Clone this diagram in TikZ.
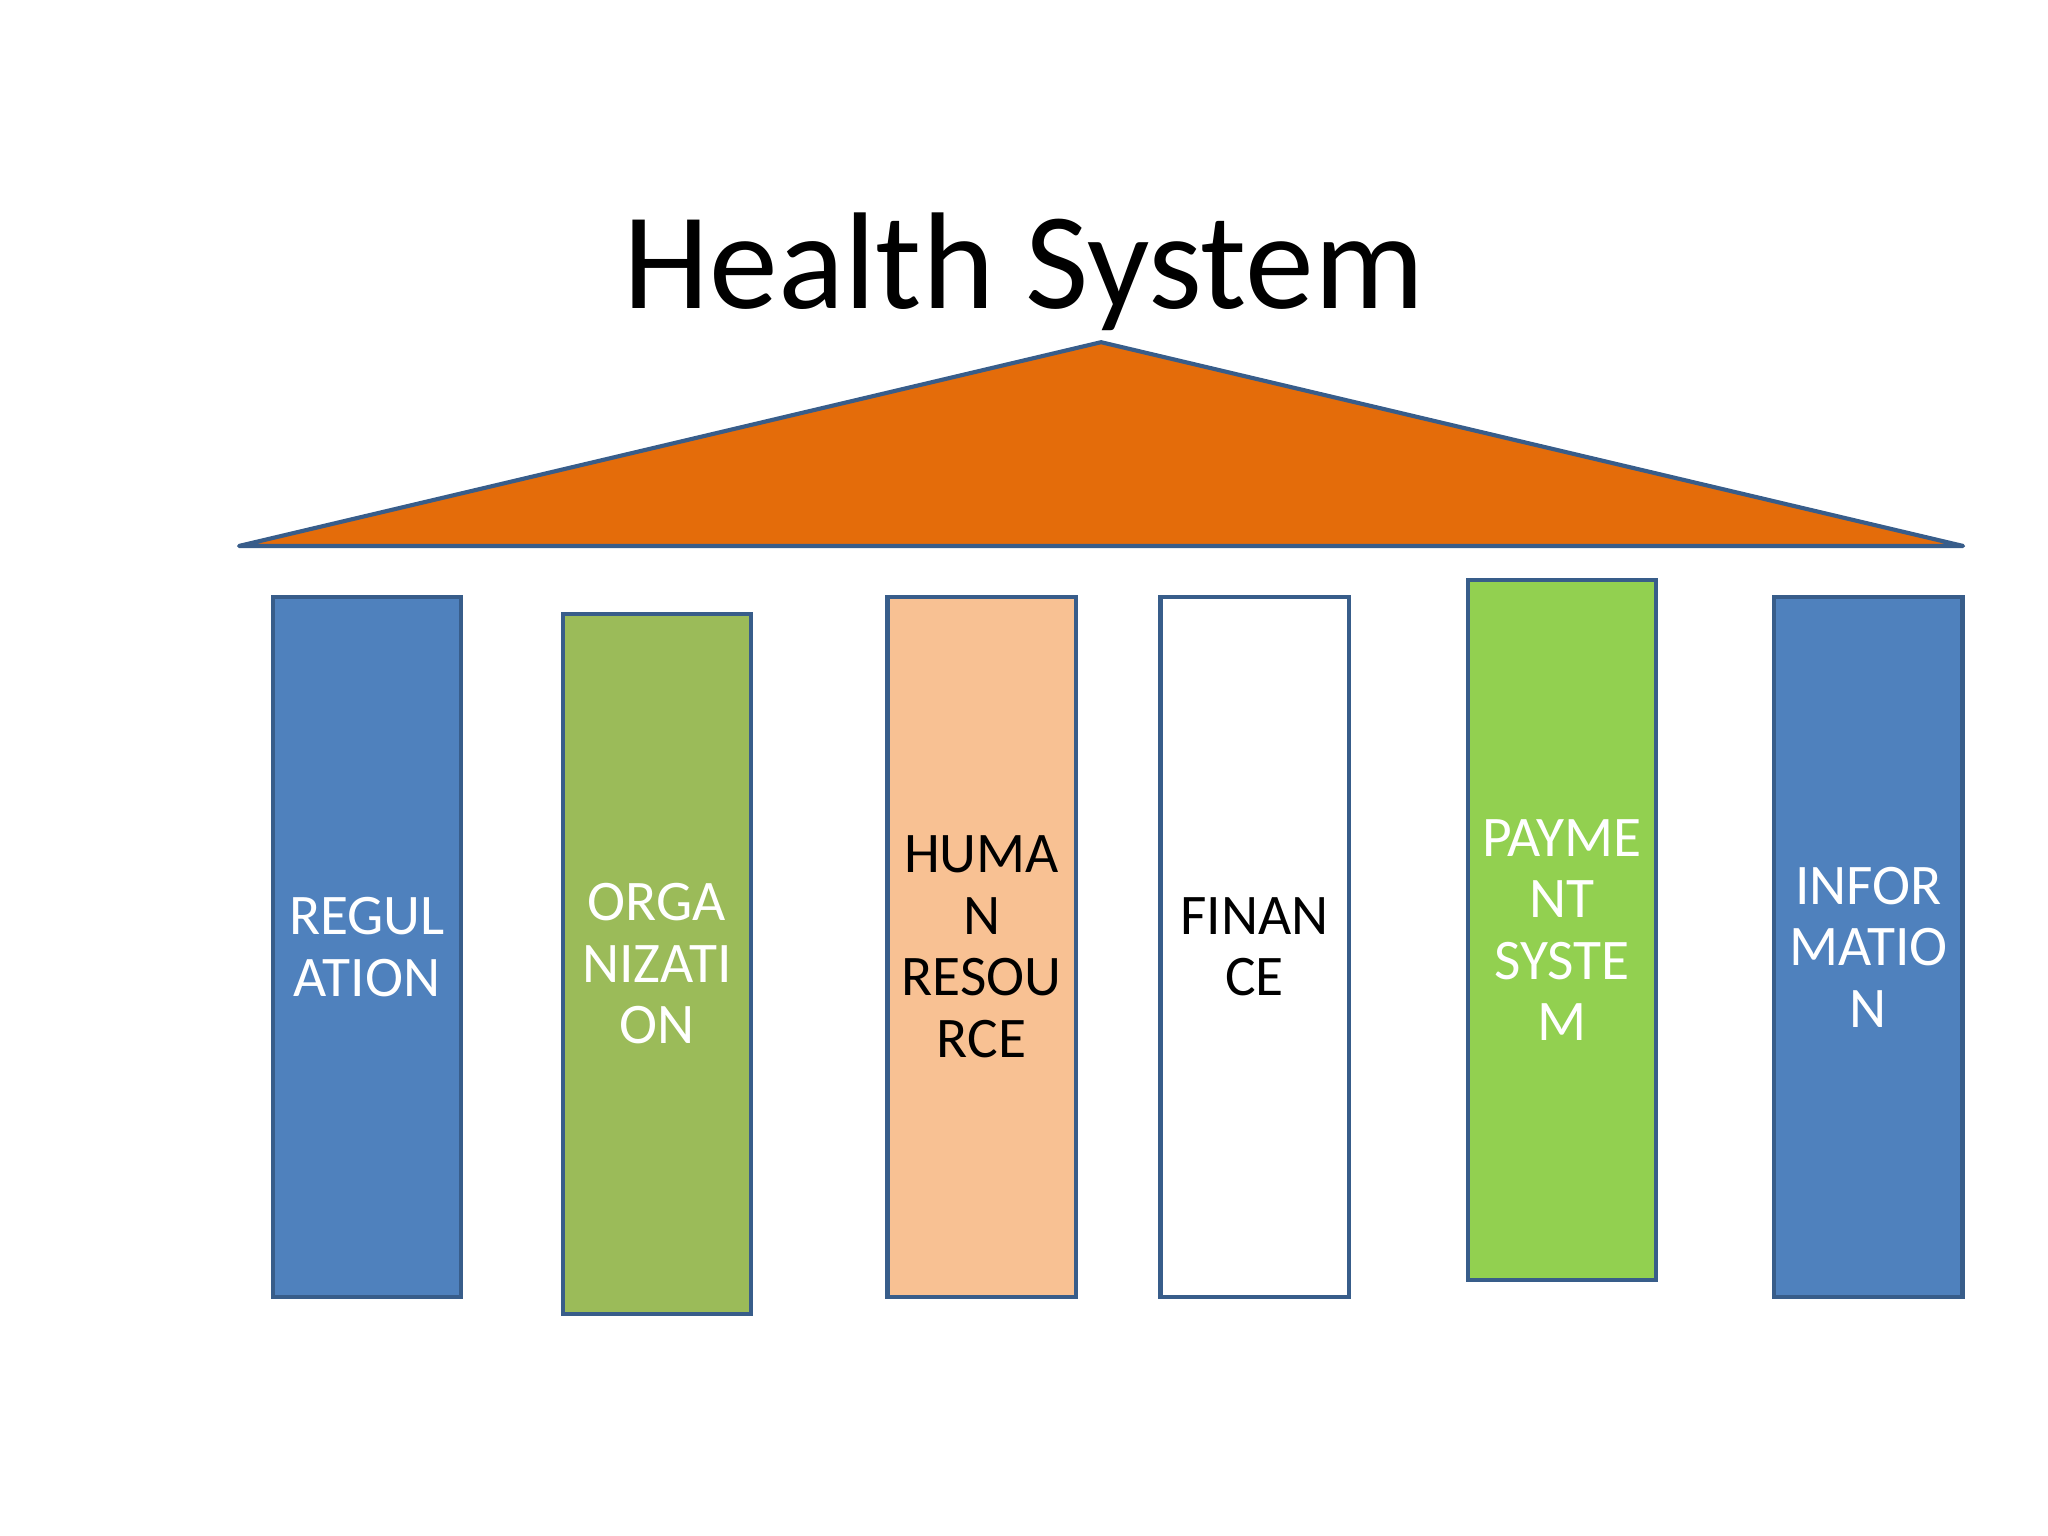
\documentclass[tikz,border=0pt]{standalone}
\usepackage{fontspec}
\setmainfont{Carlito}
\definecolor{bord}{HTML}{385D8A}
\definecolor{pblue}{HTML}{4F81BD}
\definecolor{pgreen}{HTML}{9BBB59}
\definecolor{ppeach}{HTML}{F8C193}
\definecolor{plime}{HTML}{92D050}
\definecolor{roof}{HTML}{E46C0A}
\begin{document}
\begin{tikzpicture}[x=0.01cm,y=-0.01cm,
  pillar/.style={draw=bord,line width=0.9pt,minimum width=1.44cm,minimum height=5.36cm,inner sep=0pt,
    font=\fontsize{12.5}{13.4}\selectfont,align=center,text width=1.44cm}]
\useasboundingbox (0,0) rectangle (1568,1176);
\node[font=\fontsize{30}{36}\selectfont] (title) at (784,208) {Health System};
\coordinate (l) at (183,418); \coordinate (t) at (843,262); \coordinate (r) at (1503,418);
\draw[bord,fill=roof,line width=0.9pt,line join=round] (l) -- (t) -- (r) -- cycle;
\node[pillar,fill=pblue,text=white] (p1) at (281,725) {REGUL\\ATION};
\node[pillar,fill=pgreen,text=white] (p2) at (503,738) {ORGA\\NIZATI\\ON};
\node[pillar,fill=ppeach,text=black] (p3) at (751.5,725) {HUMA\\N\\RESOU\\RCE};
\node[pillar,fill=white,text=black] (p4) at (960.5,725) {FINAN\\CE};
\node[pillar,fill=plime,text=white] (p5) at (1196,712) {PAYME\\NT\\SYSTE\\M};
\node[pillar,fill=pblue,text=white] (p6) at (1430.5,725) {INFOR\\MATIO\\N};
\end{tikzpicture}
\end{document}
